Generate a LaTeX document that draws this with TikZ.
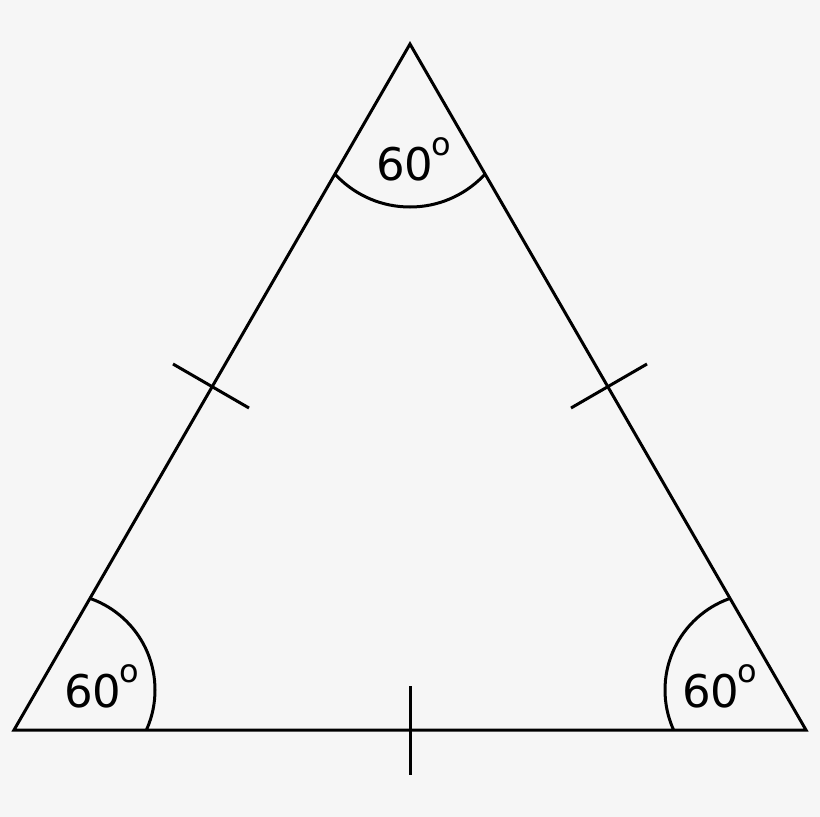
\documentclass[tikz,border=0pt]{standalone}
\usepackage{fontspec}
\newfontfamily\labfont{DejaVu Sans}
\definecolor{bg}{HTML}{F6F6F6}
\newcommand\sixtydeg{\fontsize{45}{54}\selectfont 60\kern-2pt\raisebox{25pt}{\fontsize{32}{38}\selectfont o}}
\tikzset{
  edge/.style={line width=3pt, line join=miter, black},
  tick/.style={line width=3pt, black},
  anglearc/.style={line width=3pt, black},
  anglelabel/.style={font=\labfont, anchor=base west, inner sep=0pt, text=black}
}
\begin{document}
\begin{tikzpicture}[x=1pt,y=-1pt]
\fill[bg] (0,0) rectangle (820,817);
\useasboundingbox (0,0) rectangle (820,817);
% vertices
\coordinate (A) at (14,730);
\coordinate (B) at (410,44);
\coordinate (C) at (806,730);
% angle arcs (circles clipped to the triangle)
\begin{scope}
  \clip (A) -- (B) -- (C) -- cycle;
  \draw[anglearc] (410,105) circle[radius=102pt];
  \draw[anglearc] (58,690) circle[radius=97pt];
  \draw[anglearc] (762,690) circle[radius=97pt];
\end{scope}
% triangle
\draw[edge] (A) -- (B) -- (C) -- cycle;
% tick marks
\coordinate (t1a) at (173,364);
\coordinate (t1b) at (249,408);
\coordinate (t2a) at (647,364);
\coordinate (t2b) at (571,408);
\coordinate (t3a) at (410,686);
\coordinate (t3b) at (410,775);
\draw[tick] (t1a) -- (t1b);
\draw[tick] (t2a) -- (t2b);
\draw[tick] (t3a) -- (t3b);
% labels
\node[anglelabel] (lt) at (376,180) {\sixtydeg};
\node[anglelabel] (ll) at (64,707) {\sixtydeg};
\node[anglelabel] (lr) at (682,707) {\sixtydeg};
\end{tikzpicture}
\end{document}
